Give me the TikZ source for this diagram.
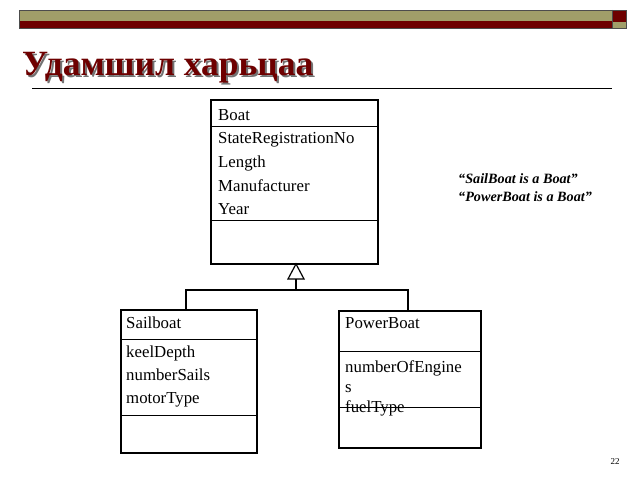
\documentclass[tikz,border=0pt]{standalone}
\usepackage{fontspec}
\setmainfont{Liberation Serif}
\begin{document}
\begin{tikzpicture}[x=1pt,y=-1pt,
  lbl/.style={anchor=base west,inner sep=0pt,font=\fontsize{16.8}{19}\selectfont},
  box/.style={draw,line width=1.4pt}]
\useasboundingbox[fill=white] (0,0) rectangle (638,478);
\definecolor{olive}{RGB}{160,158,105}
\definecolor{maroon}{RGB}{110,0,0}
\fill[olive] (19,10) rectangle (612,21);
\fill[maroon] (19,21) rectangle (612,28);
\fill[maroon] (612,10) rectangle (626,22);
\fill[olive] (612,22) rectangle (626,28);
\draw[black!70,line width=0.6pt] (19,10) rectangle (626,28) (612,10)--(612,28);
\draw[line width=0.8pt] (32,88)--(612,88);
\node[anchor=base west,inner sep=0pt,text=black!55,font=\bfseries\fontsize{35.5}{38}\selectfont] (shadow) at (24,78) {Удамшил харьцаа};
\node[anchor=base west,inner sep=0pt,text=maroon,font=\bfseries\fontsize{35.5}{38}\selectfont] (title) at (22,76) {Удамшил харьцаа};
% Boat
\draw[box] (211,100) rectangle (378,264);
\draw[line width=0.8pt] (211,126)--(378,126) (211,220)--(378,220);
\node[lbl] (boat) at (218,121) {Boat};
\node[lbl] at (218,144) {StateRegistrationNo};
\node[lbl] at (218,168) {Length};
\node[lbl] at (218,192) {Manufacturer};
\node[lbl] at (218,215) {Year};
% Sailboat
\draw[box] (121,310) rectangle (257,453);
\draw[line width=0.8pt] (121,339)--(257,339) (121,415)--(257,415);
\node[lbl] at (126,329) {Sailboat};
\node[lbl] at (126,358) {keelDepth};
\node[lbl] at (126,381) {numberSails};
\node[lbl] at (126,404) {motorType};
% PowerBoat
\draw[box] (339,311) rectangle (481,448);
\draw[line width=0.8pt] (339,351)--(481,351) (339,407)--(481,407);
\node[lbl] at (345,329) {PowerBoat};
\node[lbl] at (345,373) {numberOfEngine};
\node[lbl] at (345,393) {s};
\node[lbl] at (345,413) {fuelType};
% inheritance
\draw[line width=1.4pt] (296,279)--(296,290) (186,310)--(186,290)--(408,290)--(408,311);
\draw[line width=1.2pt,fill=white] (296,264)--(304,279)--(288,279)--cycle;
% quotes
\node[anchor=base west,inner sep=0pt,font=\bfseries\itshape\fontsize{14.2}{16}\selectfont] at (458,184) {“SailBoat is a Boat”};
\node[anchor=base west,inner sep=0pt,font=\bfseries\itshape\fontsize{14.2}{16}\selectfont] at (458,202) {“PowerBoat is a Boat”};
\node[inner sep=0pt,font=\fontsize{9}{10}\selectfont] at (615,462) {22};
\end{tikzpicture}
\end{document}
